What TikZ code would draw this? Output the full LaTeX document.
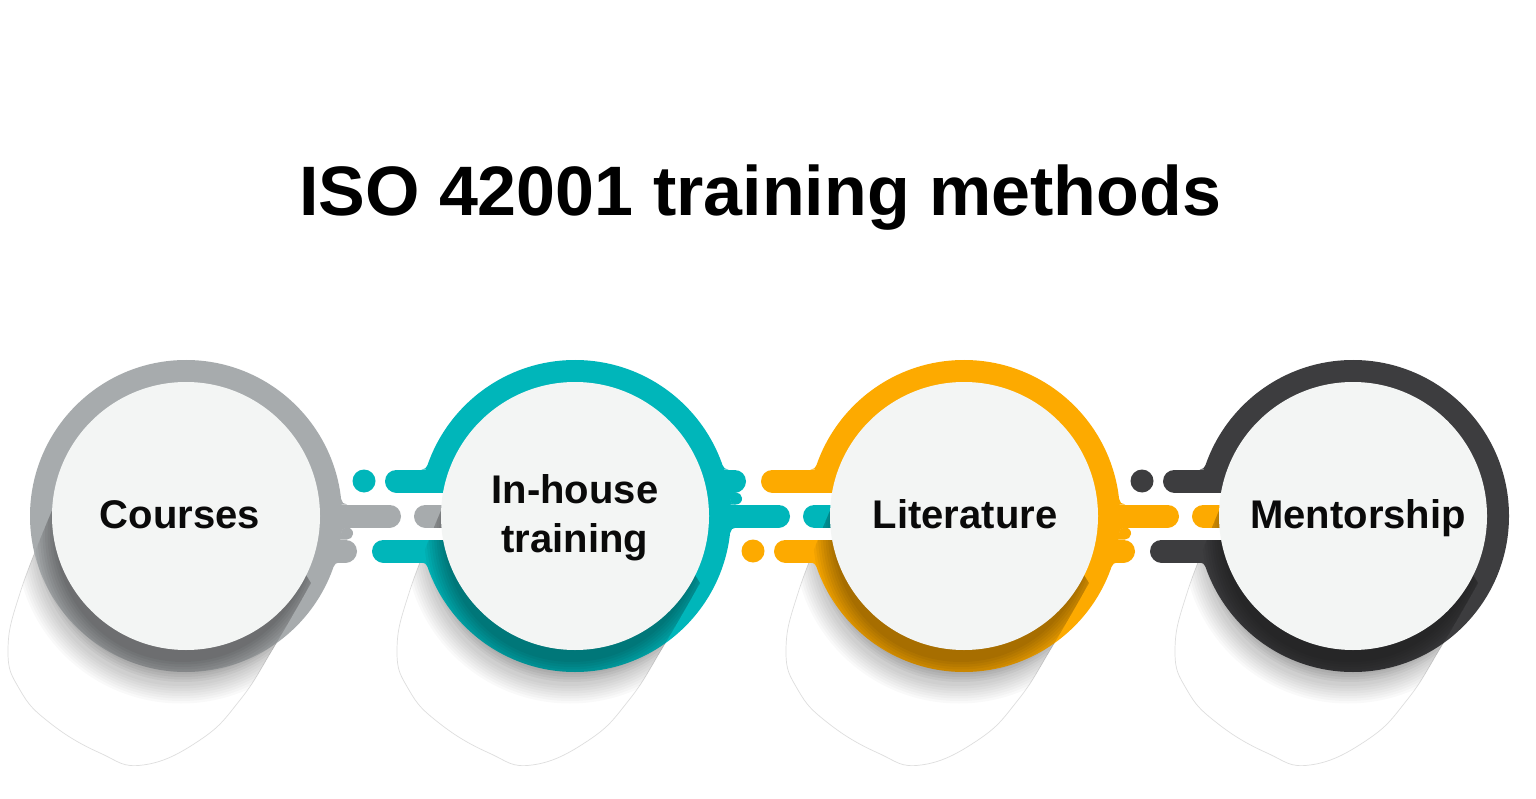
\documentclass[tikz,border=0pt]{standalone}
\usepackage{fontspec}
\setmainfont{Liberation Sans}
\definecolor{cA}{HTML}{A7ABAD}
\definecolor{cB}{HTML}{00B6BA}
\definecolor{cC}{HTML}{FDAA00}
\definecolor{cD}{HTML}{3D3D3F}
\definecolor{disk}{HTML}{F3F5F4}
\definecolor{txt}{HTML}{0A0A0A}
\newcommand{\myfil}[5]{%
 \pgfmathsetmacro\fy{(#3)+(#4)*6}%
 \pgfmathsetmacro\fq{(\fy)/162}%
 \pgfmathsetmacro\fx{(#2)*162*sqrt(1-(\fq)*(\fq))}%
 \pgfmathsetmacro\ta{atan2(-(\fy),-(\fx))}%
 \pgfmathsetmacro\tb{-90*(#4)}%
 \fill[#5] ({#1+(\fx)},{516+(#3)}) -- ({#1+0.9*(\fx)},{516+(#3)}) -- ({#1+0.9*(\fx)},{516+0.963*(\fy)}) -- ({#1+0.963*(\fx)},{516+0.963*(\fy)}) arc[start angle=\ta,end angle=\tb,radius=6] -- cycle;}
\newcommand{\connA}[3]{%
 \fill[#3] ({#1+178},481) circle[radius=11.5];
 \draw[bar,#3] ({#1+210.5},481) -- ({#1+389},481);
 \draw[bar,#2] (#1,516) -- ({#1+203.5},516);
 \draw[bar,#2] (#1,551) -- ({#1+159.5},551);
 \draw[bar,#3] ({#1+197.5},551) -- ({#1+389},551);
 \draw[bar,#2] ({#1+239.5},516) -- ({#1+389},516);
 \myfil{#1}{1}{-11.5}{-1}{#2}
 \myfil{#1}{1}{11.5}{1}{#2}
 \myfil{#1}{1}{23.5}{-1}{#2}
 \myfil{#1}{1}{46.5}{1}{#2}
 \myfil{#1+389}{-1}{-46.5}{-1}{#3}
 \myfil{#1+389}{-1}{46.5}{1}{#3}}
\newcommand{\connB}[3]{%
 \draw[bar,#2] (#1,481) -- ({#1+159.5},481);
 \draw[bar,#3] ({#1+197.5},481) -- ({#1+389},481);
 \draw[bar,#2] (#1,516) -- ({#1+203.5},516);
 \fill[#3] ({#1+178},551) circle[radius=11.5];
 \draw[bar,#3] ({#1+210.5},551) -- ({#1+389},551);
 \draw[bar,#2] ({#1+239.5},516) -- ({#1+389},516);
 \myfil{#1}{1}{-46.5}{-1}{#2}
 \myfil{#1}{1}{-23.5}{1}{#2}
 \myfil{#1}{1}{-11.5}{-1}{#2}
 \myfil{#1}{1}{11.5}{1}{#2}
 \myfil{#1+389}{-1}{-46.5}{-1}{#3}
 \myfil{#1+389}{-1}{46.5}{1}{#3}}
\newcommand{\blobpath}{plot[smooth,tension=0.75] coordinates {(-132,-10) (-165,74) (-178,134) (-166,174) (-136,207) (-86,237) (-43,249) (14,224) (54,184) (88,131) (125,67)} -- (108,40) -- (0,-40) -- cycle}
\begin{document}
\begin{tikzpicture}[x=1pt,y=-1pt,
  bar/.style={line width=23pt,line cap=round},
  lab/.style={font=\fontsize{40}{48}\selectfont\bfseries,text=txt,inner sep=0pt,anchor=base},
  disknode/.style={circle,fill=disk,minimum size=268pt,inner sep=0pt},
  blobline/.style={draw=black!13,line width=0.7pt,fill=white}]
\useasboundingbox (0,0) rectangle (1536,799);
\fill[white] (0,0) rectangle (1536,799);
% blobs with the soft shadow under each ring
\foreach \c in {186,575,964,1353}{
 \begin{scope}[shift={(\c,516)}]
  \path[blobline] \blobpath;
  \begin{scope}
   \clip \blobpath;
   \foreach \k in {0,...,7} \fill[black,opacity=0.022] (-5,22) circle[radius=148+2.5*\k];
  \end{scope}
 \end{scope}}
% rings
\fill[cA] (186,516) circle[radius=156];
\fill[cB] (575,516) circle[radius=156];
\fill[cC] (964,516) circle[radius=156];
\fill[cD] (1353,516) circle[radius=156];
% cuts on receiving side
\foreach \c in {575,964,1353} \fill[white] (\c-162,492.5) rectangle (\c-110,539.5);
% connectors
\connA{186}{cA}{cB}
\connB{575}{cB}{cC}
\connA{964}{cC}{cD}
% disk shadows on the rings
\foreach \c in {186,575,964,1353}{
 \begin{scope}[shift={(\c,516)}]
  \clip \blobpath;
  \foreach \k in {0,...,8} \fill[black,opacity=0.045] (-3,18) circle[radius=128+2.5*\k];
 \end{scope}}
% keep gaps white
\foreach \c in {575,964,1353}{
 \fill[white] (\c-163,492.5) rectangle (\c-110,504.5);
 \fill[white] (\c-163,527.5) rectangle (\c-110,539.5);}
% disks
\node[disknode] (c1) at (186,516) {};
\node[disknode] (c2) at (575,516) {};
\node[disknode] (c3) at (964,516) {};
\node[disknode] (c4) at (1353,516) {};
% texts
\node[font=\fontsize{70}{84}\selectfont\bfseries,text=black,inner sep=0pt,anchor=base] (title) at (760,216) {ISO 42001 training methods};
\node[lab] (t1) at (180,528) {Courses};
\node[lab] (t2a) at (575,503) {In-house};
\node[lab] (t2b) at (575,552) {training};
\node[lab] (t3) at (965,528) {Literature};
\node[lab] (t4) at (1358,528) {Mentorship};
\end{tikzpicture}
\end{document}
